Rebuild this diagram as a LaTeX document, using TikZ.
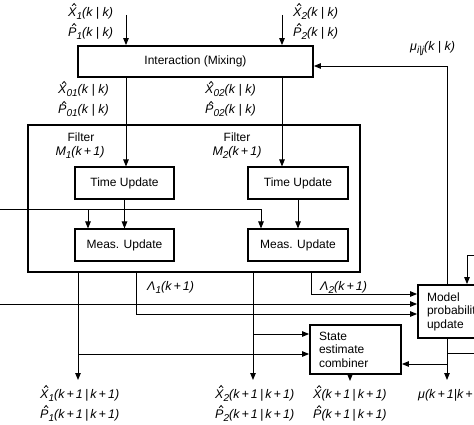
\documentclass[tikz,border=0pt]{standalone}
\usepackage{fontspec}
\setmainfont{Liberation Sans}
\usetikzlibrary{arrows.meta}
\newcommand\sbx[1]{\raisebox{-0.45ex}{\fontsize{10}{10}\selectfont #1}}
\newcommand\haton[1]{\draw[hatst] (#1.base west) ++(4.1,-10.2) -- ++(2,-2.3) -- ++(2,2.3);}
\begin{document}
\begin{tikzpicture}[x=1pt,y=-1pt,
  thickbox/.style={draw, line width=1.8pt, inner sep=0pt},
  thinbox/.style={draw, line width=1.1pt, inner sep=0pt},
  conn/.style={line width=0.9pt},
  arr/.style={conn, -{Triangle[length=7pt,width=5.5pt]}},
  hatst/.style={line width=0.75pt, line join=miter},
  lab/.style={font=\fontsize{12.5}{14}\selectfont\itshape, anchor=west, inner sep=0pt},
  btxt/.style={font=\fontsize{12}{13.5}\selectfont}]
\useasboundingbox (0,0) rectangle (474,425);
\clip (0,0) rectangle (474,425);

% boxes
\node[thickbox, btxt, minimum width=235pt, minimum height=31pt] (inter) at (195.5,61.5) {Interaction (Mixing)};
\node[thickbox, minimum width=332pt, minimum height=147pt] (filt) at (194,198.5) {};
\node[thinbox, btxt, minimum width=99pt, minimum height=32pt] (tu1) at (124.5,183) {Time Update};
\node[thinbox, btxt, minimum width=100pt, minimum height=32pt] (tu2) at (298,183) {Time Update};
\node[thinbox, btxt, minimum width=99pt, minimum height=32pt] (mu1) at (124.5,245) {Meas. Update};
\node[thinbox, btxt, minimum width=100pt, minimum height=32pt] (mu2) at (298,245) {Meas. Update};
\node[thickbox, btxt, text width=73pt, align=left, inner xsep=9pt, minimum height=49pt] (comb) at (355.5,349.5) {State\\estimate\\combiner};
\node[thickbox, btxt, text width=80pt, align=left, inner xsep=9pt, minimum height=53pt] (model) at (467,311.5) {Model\\probability\\update};

% filter labels
\node[btxt, inner sep=0pt] (f1) at (81,137) {Filter};
\node[lab, anchor=center] (m1) at (80,152) {M\sbx{1}(k\,+\,1)};
\node[btxt, inner sep=0pt] (f2) at (237,137) {Filter};
\node[lab, anchor=center] (m2) at (237,152) {M\sbx{2}(k\,+\,1)};

% inputs
\coordinate (in1) at (126,15);
\coordinate (in2) at (282,15);
\draw[arr] (in1) -- (in1 |- inter.north);
\draw[arr] (in2) -- (in2 |- inter.north);
\draw[arr] (inter.south -| in1) -- (tu1.north -| in1);
\draw[arr] (inter.south -| in2) -- (tu2.north -| in2);
\draw[arr] (tu1) -- (mu1);
\draw[arr] (tu2) -- (mu2);

% feedback
\coordinate (fb) at (447,66);
\draw[arr] (fb |- model.north) -- (fb) -- (fb -| inter.east);

% measurement line
\coordinate (zin) at (0,209);
\coordinate (z1) at (88,209);
\coordinate (z2) at (261,209);
\draw[arr] (zin) -- (z2) -- (z2 |- mu2.north);
\draw[arr] (z1) -- (z1 |- mu1.north);

% outputs of filters
\coordinate (e1) at (78,380);
\coordinate (c1) at (78,354);
\draw[arr] (e1 |- filt.south) -- (e1);
\draw[arr] (c1) -- (c1 -| comb.west);
\coordinate (l1) at (136,314);
\draw[arr] (l1 |- filt.south) -- (l1) -- (l1 -| model.west);
\coordinate (e2) at (253,380);
\coordinate (c2) at (253,334);
\draw[arr] (e2 |- filt.south) -- (e2);
\draw[arr] (c2) -- (c2 -| comb.west);
\coordinate (l2) at (311,294);
\draw[arr] (l2 |- filt.south) -- (l2) -- (l2 -| model.west);
\coordinate (zz) at (0,304);
\draw[arr] (zz) -- (zz -| model.west);

% combiner / model outputs
\coordinate (e3) at (350,381);
\draw[arr] (e3 |- comb.south) -- (e3);
\coordinate (e4) at (447,380);
\draw[arr] (e4 |- model.south) -- (e4);
\coordinate (c4) at (447,364);
\draw[arr] (c4) -- (c4 -| comb.east);
\coordinate (r1) at (447,353);
\coordinate (r1e) at (474,353);
\draw[conn] (r1) -- (r1e);
\coordinate (r2) at (474,255);
\coordinate (r2b) at (467,255);
\draw[arr] (r2) -- (r2b) -- (r2b |- model.north);

% labels
\node[lab] (lx1) at (68,13) {X\sbx{1}(k | k)};
\node[lab] (lp1) at (68,33) {P\sbx{1}(k | k)};
\node[lab] (lx2) at (293,13) {X\sbx{2}(k | k)};
\node[lab] (lp2) at (293,33) {P\sbx{2}(k | k)};
\node[lab] (lmu) at (410,49) {μ\sbx{i|j}(k | k)};
\node[lab] (lx01) at (58,91) {X\sbx{01}(k | k)};
\node[lab] (lp01) at (58,111) {P\sbx{01}(k | k)};
\node[lab] (lx02) at (205,91) {X\sbx{02}(k | k)};
\node[lab] (lp02) at (205,111) {P\sbx{02}(k | k)};
\node[lab] (lL1) at (147,287) {Λ\sbx{1}(k\,+\,1)};
\node[lab] (lL2) at (320,287) {Λ\sbx{2}(k\,+\,1)};
\node[lab] (ox1) at (40,395) {X\sbx{1}(k\,+\,1\,|\,k\,+\,1)};
\node[lab] (op1) at (40,415) {P\sbx{1}(k\,+\,1\,|\,k\,+\,1)};
\node[lab] (ox2) at (215,395) {X\sbx{2}(k\,+\,1\,|\,k\,+\,1)};
\node[lab] (op2) at (215,415) {P\sbx{2}(k\,+\,1\,|\,k\,+\,1)};
\node[lab] (ox) at (313,395) {X(k\,+\,1\,|\,k\,+\,1)};
\node[lab] (op) at (313,415) {P(k\,+\,1\,|\,k\,+\,1)};
\node[lab] (omu) at (418,395) {μ(k\,+\,1|k\,+\,1)};
\foreach \n in {lx1,lp1,lx2,lp2,lx01,lp01,lx02,lp02,ox1,op1,ox2,op2,ox,op} {\haton{\n}}
\end{tikzpicture}
\end{document}
